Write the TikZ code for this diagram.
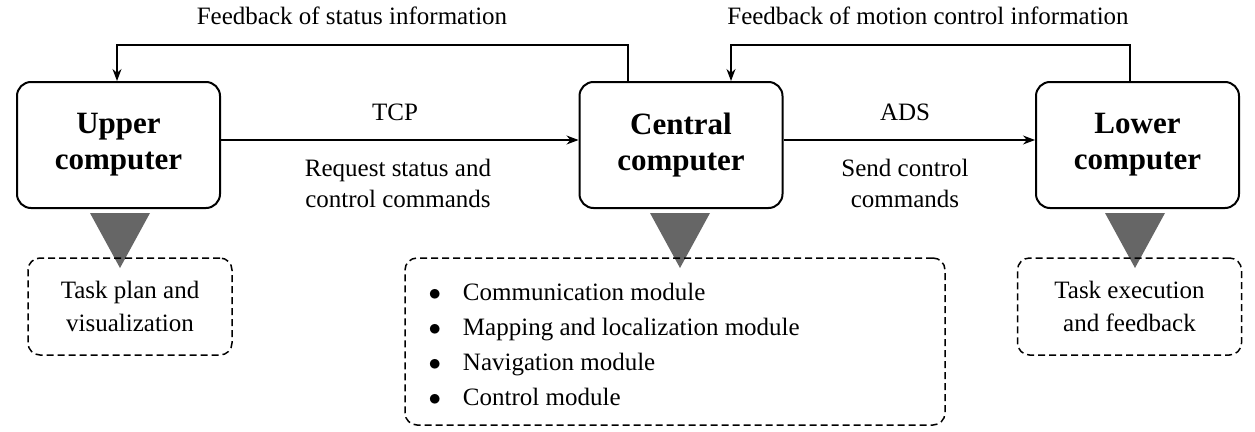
\documentclass[tikz,border=0pt]{standalone}
\usepackage{fontspec}
\setmainfont{Liberation Serif}[BoldFont={Liberation Serif Bold}]
\usetikzlibrary{arrows.meta}
\begin{document}
\begin{tikzpicture}[x=1pt,y=-1pt,
  comp/.style={draw,line width=2pt,rounded corners=14pt,minimum width=203pt,minimum height=126pt,align=center,font=\fontsize{31}{36}\selectfont\bfseries},
  dbox/.style={draw,dash pattern=on 7pt off 4pt,line width=1.5pt,rounded corners=12pt,align=center,font=\fontsize{25}{33}\selectfont},
  lbl/.style={font=\fontsize{25}{31}\selectfont,align=center},
  arr/.style={-{Stealth[length=12pt,width=9pt]},line width=1.2pt},
  tri/.style={fill=gray!80!black,draw=none}]
\useasboundingbox (0,0) rectangle (1255,431);
\node[comp] (up) at (118.5,145) {Upper\\computer};
\node[comp] (ce) at (681,145) {Central\\computer};
\node[comp] (lo) at (1137.5,145) {Lower\\computer};
\fill[tri] (90,213) -- (150,213) -- (120,268) -- cycle;
\fill[tri] (650,213) -- (710,213) -- (680,268) -- cycle;
\fill[tri] (1105,213) -- (1165,213) -- (1135,268) -- cycle;
\node[dbox,minimum width=204pt,minimum height=97pt] (d1) at (130,306.5) {Task plan and\\visualization};
\node[dbox,minimum width=224pt,minimum height=97pt] (d3) at (1129.5,306.5) {Task execution\\and feedback};
\node[dbox,minimum width=540pt,minimum height=167pt] (d2) at (675,341.5) {};
\foreach \t [count=\i] in {Communication module,Mapping and localization module,Navigation module,Control module}{
  \node[lbl,anchor=base west] (b\i) at (425,265+\i*35) {$\bullet$\hspace{22pt}\t};
}
\draw[arr] (up.east|-0,140) -- (ce.west|-0,140);
\draw[arr] (ce.east|-0,140) -- (lo.west|-0,140);
\node[lbl] (tcp) at (395,112) {TCP};
\node[lbl] (req) at (398,183) {Request status and\\control commands};
\node[lbl] (ads) at (905,112) {ADS};
\node[lbl] (snd) at (905,183) {Send control\\commands};
\coordinate (f1a) at (628,45); \coordinate (f1b) at (117,45);
\draw[arr] (ce.north-|f1a) -- (f1a) -- (f1b) -- (up.north-|f1b);
\coordinate (f2a) at (1130,45); \coordinate (f2b) at (731,45);
\draw[arr] (lo.north-|f2a) -- (f2a) -- (f2b) -- (ce.north-|f2b);
\node[lbl] (t1) at (352,16) {Feedback of status information};
\node[lbl] (t2) at (928,16) {Feedback of motion control information};
\end{tikzpicture}
\end{document}
